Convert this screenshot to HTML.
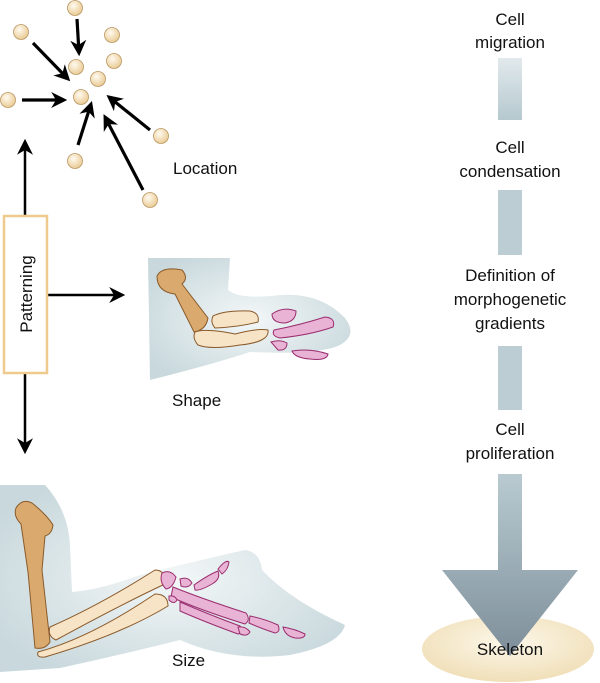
<!DOCTYPE html>
<html><head><meta charset="utf-8"><style>
body{margin:0;background:#fff}
svg{display:block}
text{font-family:"Liberation Sans",Arial,sans-serif;fill:#111}
</style></head><body>
<svg width="600" height="683" viewBox="0 0 600 683" xmlns="http://www.w3.org/2000/svg">
<defs>
<radialGradient id="dot" cx="0.4" cy="0.35" r="0.7"><stop offset="0" stop-color="#fffaf0"/><stop offset="1" stop-color="#e8c88e"/></radialGradient>
<marker id="ah2" viewBox="0 0 10 10" markerWidth="16" markerHeight="16" refX="8" refY="5" orient="auto" markerUnits="userSpaceOnUse"><path d="M0,0 L10,5 L0,10 L3,5 Z" fill="#000"/></marker>
<linearGradient id="bar" x1="0" y1="0" x2="0" y2="1"><stop offset="0" stop-color="#e2e9ec"/><stop offset="1" stop-color="#b5c9cf"/></linearGradient>
<linearGradient id="arr" x1="0" y1="0" x2="0" y2="1"><stop offset="0" stop-color="#b9cbd1"/><stop offset="1" stop-color="#7d8e9a"/></linearGradient>
<radialGradient id="ell" cx="0.5" cy="0.4" r="0.6"><stop offset="0" stop-color="#fdf8ea"/><stop offset="1" stop-color="#f0dfb8"/></radialGradient>
<radialGradient id="limb" cx="0.5" cy="0.5" r="0.6"><stop offset="0" stop-color="#f3f7f8"/><stop offset="1" stop-color="#c8d8dc"/></radialGradient>
</defs>

<g fill="url(#dot)" stroke="#b99660" stroke-width="0.8">
<circle cx="75" cy="8" r="7.5"/><circle cx="21" cy="32" r="7.5"/><circle cx="112" cy="35" r="7.5"/>
<circle cx="76" cy="67" r="7.5"/><circle cx="114" cy="61" r="7.5"/><circle cx="98" cy="79" r="7.5"/>
<circle cx="81" cy="97" r="7.5"/><circle cx="8" cy="100" r="7.5"/><circle cx="161" cy="136" r="7.5"/>
<circle cx="75" cy="161" r="7.5"/><circle cx="150" cy="200" r="7.5"/>
</g>
<g stroke="#000" stroke-width="3.2" marker-end="url(#ah2)">
<line x1="77" y1="19" x2="79" y2="53"/>
<line x1="33" y1="43" x2="68" y2="79"/>
<line x1="22" y1="100" x2="64" y2="100"/>
<line x1="78" y1="145" x2="91" y2="104"/>
<line x1="150" y1="130" x2="109" y2="97"/>
<line x1="143" y1="190" x2="105" y2="117"/>
</g>
<text x="173" y="174" font-size="17">Location</text>

<g stroke="#000" stroke-width="2.5" marker-end="url(#ah2)">
<line x1="25" y1="216" x2="25" y2="142"/>
<line x1="48" y1="295" x2="122" y2="295"/>
<line x1="25" y1="373" x2="25" y2="451"/>
</g>
<rect x="4" y="216" width="43" height="157" fill="#fff" stroke="#eecb8c" stroke-width="2.5"/>
<text transform="translate(32,294) rotate(-90)" text-anchor="middle" font-size="17">Patterning</text>

<path d="M148,258 L230,258 L228,290 Q240,300 280,295 Q320,292 345,318 Q358,335 340,345 Q320,355 250,352 Q210,365 150,380 Z" fill="url(#limb)"/>
<g stroke="#8a5a2a" stroke-width="1">
<path d="M157,276 Q162,266 182,270 Q189,278 182,284 L208,318 Q206,330 194,332 L175,294 Q157,292 157,276 Z" fill="#d9a96e"/>
<path d="M213,316 Q225,310 250,311 Q260,313 258,322 Q240,327 215,328 Q210,322 213,316 Z" fill="#f7e3c6"/>
<path d="M195,332 Q205,328 235,334 Q258,328 268,330 Q270,342 240,345 Q210,350 198,345 Q192,338 195,332 Z" fill="#f7e3c6"/>
</g>
<g fill="#e9b3d6" stroke="#9a2d6e" stroke-width="1">
<path d="M272,314 Q283,306 296,311 Q296,321 285,323 Q272,323 272,314Z"/>
<path d="M274,330 Q300,325 325,317 Q336,318 333,327 Q310,335 280,338 Q271,336 274,330Z"/>
<path d="M271,342 Q280,339 287,343 Q287,351 278,350 Z"/>
<path d="M292,351 Q310,348 328,354 Q327,361 310,359 Q295,358 292,351Z"/>
</g>
<text x="172" y="406" font-size="17">Shape</text>

<path d="M0,485 L45,485 Q68,510 70,545 L72,592 Q100,590 140,575 Q200,560 245,550 Q260,552 262,570 Q290,600 345,625 Q340,645 290,655 Q230,662 180,640 Q120,655 60,668 L0,672 Z" fill="url(#limb)"/>
<g stroke="#8a5a2a" stroke-width="1">
<path d="M16,508 Q22,498 32,503 Q47,515 53,525 Q52,534 45,536 L42,570 L50,642 Q45,650 35,648 L28,572 L21,524 Q13,516 16,508Z" fill="#d9a96e"/>
<path d="M50,627 Q100,605 155,570 Q166,570 165,584 Q120,605 56,640 Q47,636 50,627Z" fill="#f7e3c6"/>
<path d="M38,652 Q90,638 155,594 Q168,594 168,606 Q120,635 45,657 Q36,658 38,652Z" fill="#f7e3c6"/>
</g>
<g fill="#e9b3d6" stroke="#9a2d6e" stroke-width="1">
<path d="M162,573 Q170,569 176,577 Q173,588 166,589 Q159,582 162,573Z"/>
<path d="M180,579 Q188,576 192,583 Q188,589 181,586Z"/>
<path d="M194,585 Q208,575 218,571 Q221,579 212,584 Q200,591 195,590Z"/>
<path d="M218,569 Q226,559 229,562 Q228,570 222,574Z"/>
<path d="M173,587 Q200,598 246,613 Q251,620 245,624 Q200,610 171,597Z"/>
<path d="M169,596 Q175,595 177,600 Q174,605 169,600Z"/>
<path d="M180,602 Q210,615 240,626 Q245,632 238,634 Q205,622 180,611Z"/>
<path d="M250,616 Q265,619 278,625 Q281,632 275,633 Q260,628 249,623Z"/>
<path d="M238,627 Q246,626 250,632 Q247,637 240,634Z"/>
<path d="M283,627 Q295,629 305,634 Q305,639 295,638 Q285,636 283,627Z"/>
</g>
<text x="172" y="666" font-size="17">Size</text>

<g font-size="17" text-anchor="middle">
<text x="510" y="25">Cell</text><text x="510" y="48">migration</text>
<text x="510" y="153">Cell</text><text x="510" y="177">condensation</text>
<text x="510" y="281">Definition of</text><text x="510" y="305">morphogenetic</text><text x="510" y="329">gradients</text>
<text x="510" y="435">Cell</text><text x="510" y="459">proliferation</text>
</g>
<rect x="498" y="58" width="24" height="62" fill="url(#bar)"/>
<rect x="498" y="190" width="24" height="65" fill="#bccdd3"/>
<rect x="498" y="346" width="24" height="64" fill="#bccdd3"/>
<ellipse cx="508" cy="649" rx="86" ry="33" fill="url(#ell)"/>
<path d="M498,474 L522,474 L522,570 L578,570 L510,656 L442,570 L498,570 Z" fill="url(#arr)"/>
<text x="510" y="655" font-size="17" text-anchor="middle">Skeleton</text>
</svg>
</body></html>
